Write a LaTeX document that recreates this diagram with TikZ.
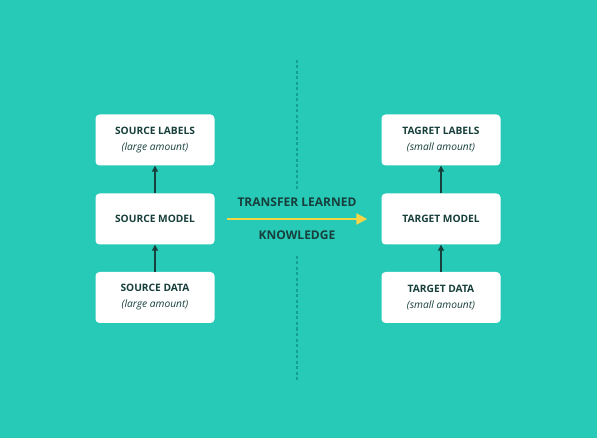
\documentclass[tikz,border=0pt]{standalone}
\usepackage{fontspec}
\setmainfont{Open Sans}
\usetikzlibrary{arrows.meta}
\definecolor{bg}{HTML}{27C9B7}
\definecolor{ink}{HTML}{173F3B}
\definecolor{dots}{HTML}{15A091}
\definecolor{yel}{HTML}{F6D646}
\tikzset{
  box/.style={fill=white, rounded corners=4pt, minimum width=119pt, minimum height=51pt, inner sep=0pt, align=center, text=ink, font=\fontsize{10.2}{13}\selectfont},
  up/.style={draw=ink, line width=1.2pt, -{Triangle[length=6pt,width=6pt]}},
  sep/.style={draw=dots, line width=1.5pt, dash pattern=on 3pt off 2.5pt},
  lbl/.style={text=ink, font=\fontsize{12}{14}\bfseries\selectfont}
}
\begin{document}
\begin{tikzpicture}[x=1pt,y=-1pt]
\fill[bg] (0,0) rectangle (597,438);
\useasboundingbox (0,0) rectangle (597,438);
\node[box] (sl) at (155,140) {\textbf{SOURCE LABELS}\\[3pt]\textit{(large amount)}};
\node[box] (sm) at (155,219) {\textbf{SOURCE MODEL}};
\node[box] (sd) at (155,297.5) {\textbf{SOURCE DATA}\\[3pt]\textit{(large amount)}};
\node[box] (tl) at (441,140) {\textbf{TAGRET LABELS}\\[3pt]\textit{(small amount)}};
\node[box] (tm) at (441,219) {\textbf{TARGET MODEL}};
\node[box] (td) at (441,297.5) {\textbf{TARGET DATA}\\[3pt]\textit{(small amount)}};
\draw[up] (sd) -- (sm);
\draw[up] (sm) -- (sl);
\draw[up] (td) -- (tm);
\draw[up] (tm) -- (tl);
\coordinate (d1) at (297,60);
\coordinate (d2) at (297,190);
\coordinate (d3) at (297,256);
\coordinate (d4) at (297,380);
\draw[sep] (d1) -- (d2);
\draw[sep] (d3) -- (d4);
\coordinate (ya) at (227,219);
\draw[draw=yel, line width=2.2pt, -{Triangle[length=11pt,width=11pt]}] (ya) -- ([xshift=-14pt]tm.west);
\node[lbl] (t1) at (297,202.5) {TRANSFER LEARNED};
\node[lbl] (t2) at (297,235) {KNOWLEDGE};
\end{tikzpicture}
\end{document}
